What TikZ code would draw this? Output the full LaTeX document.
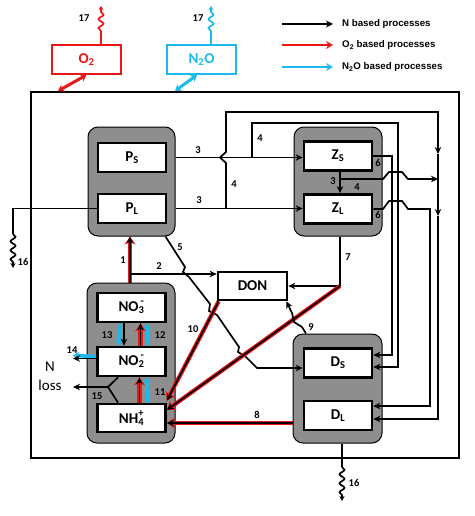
\documentclass[tikz,border=0pt]{standalone}
\usepackage{fontspec}
\setmainfont{Carlito}
\newfontfamily\legfont{Liberation Sans}
\usetikzlibrary{arrows.meta,calc,positioning,decorations.pathmorphing}
\definecolor{o2red}{RGB}{236,22,22}
\definecolor{nocyan}{RGB}{28,186,236}
\definecolor{grpgray}{RGB}{142,142,142}
\newcommand{\chemion}[2]{\textsubscript{#1}\llap{\raisebox{0.25ex}{\textsuperscript{#2}}}}

\tikzset{
  grp/.style={draw=black, line width=1pt, fill=grpgray, rounded corners=10pt, inner sep=0pt},
  pool/.style={draw=black, line width=2.7pt, fill=white, inner sep=0pt, minimum width=68pt, minimum height=29pt, font=\fontsize{15}{15}\selectfont\bfseries},
  gas/.style={line width=2pt, fill=white, inner sep=0pt, minimum width=69pt, minimum height=29pt, font=\fontsize{15}{15}\selectfont\bfseries},
  line/.style={line width=1.7pt, draw=black},
  flow/.style={line, -{Stealth[length=7pt,width=6.5pt]}},
  redflow/.style={line width=4.2pt, draw=o2red, -{Stealth[length=8pt,width=11pt]}},
  cyanflow/.style={line width=3.5pt, draw=nocyan, -{Stealth[length=6pt,width=8pt]}},
  num/.style={font=\fontsize{10.5}{10.5}\selectfont\bfseries, inner sep=1pt},
  wig/.style={line width=1.7pt, decorate, decoration={snake, amplitude=2.5pt, segment length=9pt, post length=4pt}},
  legtext/.style={anchor=west, inner sep=0pt, font=\legfont\bfseries\fontsize{9.7}{10}\selectfont},
}

\begin{document}
\begin{tikzpicture}[x=1pt, y=-1pt]
  \useasboundingbox (0,0) rectangle (474,516);

  % legend
  \node [legtext] (legN) at (342,24) {N based processes};
  \node [legtext] (legO) at (342,45) {O\textsubscript{2} based processes};
  \node [legtext] (legNO) at (342,67) {N\textsubscript{2}O based processes};
  \draw [line width=1.7pt, -{Stealth[length=7pt,width=7pt]}] ([xshift=-60pt]legN.west) -- ([xshift=-9pt]legN.west);
  \draw [line width=2.7pt, o2red, -{Stealth[length=7pt,width=8pt]}] ([xshift=-60pt]legO.west) -- ([xshift=-9pt]legO.west);
  \draw [line width=2.7pt, nocyan, -{Stealth[length=7pt,width=8pt]}] ([xshift=-60pt]legNO.west) -- ([xshift=-9pt]legNO.west);

  % outer box and pools
  \node [draw, line width=1.6pt, inner sep=0pt, minimum width=428pt, minimum height=366pt] (frame) at (245,275) {};
  \node [grp, minimum width=87pt, minimum height=109pt] (Pgrp) at (131.5,181.5) {};
  \node [grp, minimum width=88pt, minimum height=109pt] (Zgrp) at (338,181.5) {};
  \node [grp, minimum width=88pt, minimum height=160pt] (Ngrp) at (131,363) {};
  \node [grp, minimum width=89pt, minimum height=109pt] (Dgrp) at (337.5,388.5) {};

  \node [pool] (PS) at (132,157.5) {P\textsubscript{S}};
  \node [pool] (PL) at (132,208.5) {P\textsubscript{L}};
  \node [pool] (ZS) at (338,156) {Z\textsubscript{S}};
  \node [pool] (ZL) at (338,209) {Z\textsubscript{L}};
  \node [pool, minimum width=69pt, minimum height=28pt] (DON) at (252.5,286) {DON};
  \node [pool] (NO3) at (131.5,307.5) {NO\chemion{3}{-}};
  \node [pool] (NO2) at (131.5,361.5) {NO\chemion{2}{-}};
  \node [pool, minimum height=28pt] (NH4) at (131.5,418) {NH\chemion{4}{+}};
  \node [pool] (DS) at (338,363) {D\textsubscript{S}};
  \node [pool] (DL) at (338,415.5) {D\textsubscript{L}};

  \node [gas, draw=o2red, text=o2red] (O2) at (86.5,59.5) {O\textsubscript{2}};
  \node [gas, draw=nocyan, text=nocyan] (N2O) at (201.5,59.5) {N\textsubscript{2}O};

  % gas exchange
  \draw [line width=3pt, o2red, {Stealth[length=6pt,width=8pt]}-{Stealth[length=6pt,width=8pt]}] (O2.south) -- (58,91);
  \draw [line width=3pt, nocyan, {Stealth[length=6pt,width=8pt]}-{Stealth[length=6pt,width=8pt]}] ([xshift=-4.5pt]N2O.south) -- (175,91);
  \draw [line, o2red] ([xshift=14.5pt]O2.north) -- (101,31);
  \draw [wig, o2red, -{Stealth[length=4pt,width=5pt]}] (101,31) -- (101,6);
  \draw [line, nocyan] ([xshift=9.5pt]N2O.north) -- (211,31);
  \draw [wig, nocyan, -{Stealth[length=4pt,width=5pt]}] (211,31) -- (211,6);
  \node [num] at (84,18) {17};
  \node [num] at (198,18) {17};

  % losses 16
  \draw [line] (PL.west) -- (13,208.5) -- (13,234);
  \draw [wig, -{Stealth[length=5pt,width=5pt]}] (13,234) -- (13,268);
  \node [num] at (23,262) {16};
  \draw [line] ([xshift=4.5pt]Dgrp.south) -- (342,467);
  \draw [wig, -{Stealth[length=5pt,width=5pt]}] (342,467) -- (342,501);
  \node [num] at (354,483) {16};

  % grazing 3
  \draw [flow] (Pgrp.east |- PS.east) -- (ZS.west |- PS.east);
  \draw [flow] (Pgrp.east |- PL.east) -- (ZL.west |- PL.east);
  \draw [flow] ([xshift=2pt]ZS.south) -- ([xshift=2pt]ZL.north);
  \node [num] at (198,150) {3};
  \node [num] at (199,200) {3};
  \node [num] at (333,181) {3};

  % mortality 4 and 6
  \coordinate (b4s) at (252,157.5);
  \coordinate (b4l) at (226,208.5);
  \coordinate (b4z) at (340,179);
  \coordinate (c6s) at (392,355);
  \coordinate (c4s) at (398,367);
  \coordinate (c6l) at (430,406);
  \coordinate (c4l) at (438,419);
  \draw [flow] (b4s) -- (252,123) -| (c4s) -- (c4s -| DS.east);
  \draw [flow] (b4l) -- (226,163) -- (220,157.5) -- (226,152) -- (226,112) -| (438,154);
  \draw [flow] (438,154) -- (438,216);
  \draw [flow] (438,216) -- (c4l) -- (c4l -| DL.east);
  \draw [flow] (b4z) -- (383,179) -- (389,172) -- (402,172) -- (408,179) -- (438,179);
  \draw [flow] (ZS.east) -| (c6s) -- (c6s -| DS.east);
  \draw [flow] (ZL.east) -- (383,209) -- (389,201) -- (402,201) -- (408,209) -| (c6l) -- (c6l -| DL.east);
  \node [num] at (260,138) {4};
  \node [num] at (234,184) {4};
  \node [num] at (357,187) {4};
  \node [num] at (378,163) {6};
  \node [num] at (378,215) {6};

  % uptake 1 and exudation 2
  \coordinate (n1) at (130,283);
  \coordinate (n2) at (130,274);
  \draw [redflow] (n1) -- (n1 |- Pgrp.south);
  \draw [flow] (n1) -- (n1 |- Pgrp.south);
  \draw [flow] (n2) -- (n2 -| DON.west);
  \node [num] at (123,260) {1};
  \node [num] at (159,266) {2};

  % 5 to DS
  \coordinate (n5) at (257,368);
  \draw [flow] ([xshift=-10pt]Pgrp.south east) -- (185,267) -- (183,272) -- (189,277) -- (210,304)
    -- (209,311) -- (217,315) -- (239,347) -- (238,352) -- (246,357) -- (n5) -- (n5 -| DS.west);
  \node [num] at (180,247) {5};

  % 7 excretion
  \coordinate (c7) at (340,286);
  \draw [line] (Zgrp.south -| c7) -- (c7);
  \draw [flow] (c7) -- (DON.east);
  \node [num] at (348,257) {7};

  % remineralisation (red)
  \coordinate (n8) at ([yshift=-5pt]NH4.east);
  \draw [redflow] (c7) -- ([yshift=8pt]NH4.east);
  \draw [flow] (c7) -- ([yshift=8pt]NH4.east);
  \draw [redflow] ([xshift=2pt]DON.south west) -- ([yshift=2pt]NH4.north east);
  \draw [flow] ([xshift=2pt]DON.south west) -- ([yshift=2pt]NH4.north east);
  \draw [redflow] (n8 -| Dgrp.west) -- (n8);
  \draw [flow] (n8 -| Dgrp.west) -- (n8);
  \node [num] at (193,329) {10};
  \node [num] at (257,415) {8};

  % 9 to DON
  \draw [flow] ([xshift=-31.5pt]Dgrp.north) -- (302,327) -- (294,322) -- (292,313) -- ([xshift=-2pt]DON.south east);
  \node [num] at (311,327) {9};

  % nitrogen cycle
  \draw [cyanflow] ([xshift=-11pt]NO3.south) -- ([xshift=-13pt]NO2.north);
  \draw [flow] ([xshift=-7.5pt]NO3.south) -- ([xshift=-7.5pt]NO2.north);
  \draw [cyanflow] ([xshift=17pt]NO2.north) -- ([xshift=15pt]NO3.south);
  \draw [redflow] ([xshift=9pt]NO2.north) -- ([xshift=9pt]NO3.south);
  \draw [flow] ([xshift=9pt]NO2.north) -- ([xshift=9pt]NO3.south);
  \draw [cyanflow] ([xshift=16pt]NH4.north) -- ([xshift=15pt]NO2.south);
  \draw [redflow] ([xshift=8pt]NH4.north) -- ([xshift=8pt]NO2.south);
  \draw [flow] ([xshift=8pt]NH4.north) -- ([xshift=8pt]NO2.south);
  \node [num] at (107,335) {13};
  \node [num] at (160,335) {12};
  \node [num] at (160,392) {11};

  % N loss
  \node [align=center, font=\fontsize{15}{19}\selectfont] (Nloss) at (50,376) {N\\loss};
  \coordinate (c14) at (73,358.5);
  \coordinate (c15) at (108,387);
  \draw [cyanflow] ([yshift=5pt]NO2.west) -- ([yshift=3pt]c14);
  \draw [flow] (NO2.west |- c14) -- (c14);
  \draw [line] ([xshift=-13.5pt]NO2.south) -- (c15) -- ([xshift=-13.5pt]NH4.north);
  \draw [flow] (c15) -- (73,387);
  \node [num] at (72,350) {14};
  \node [num] at (97,396) {15};
\end{tikzpicture}
\end{document}
